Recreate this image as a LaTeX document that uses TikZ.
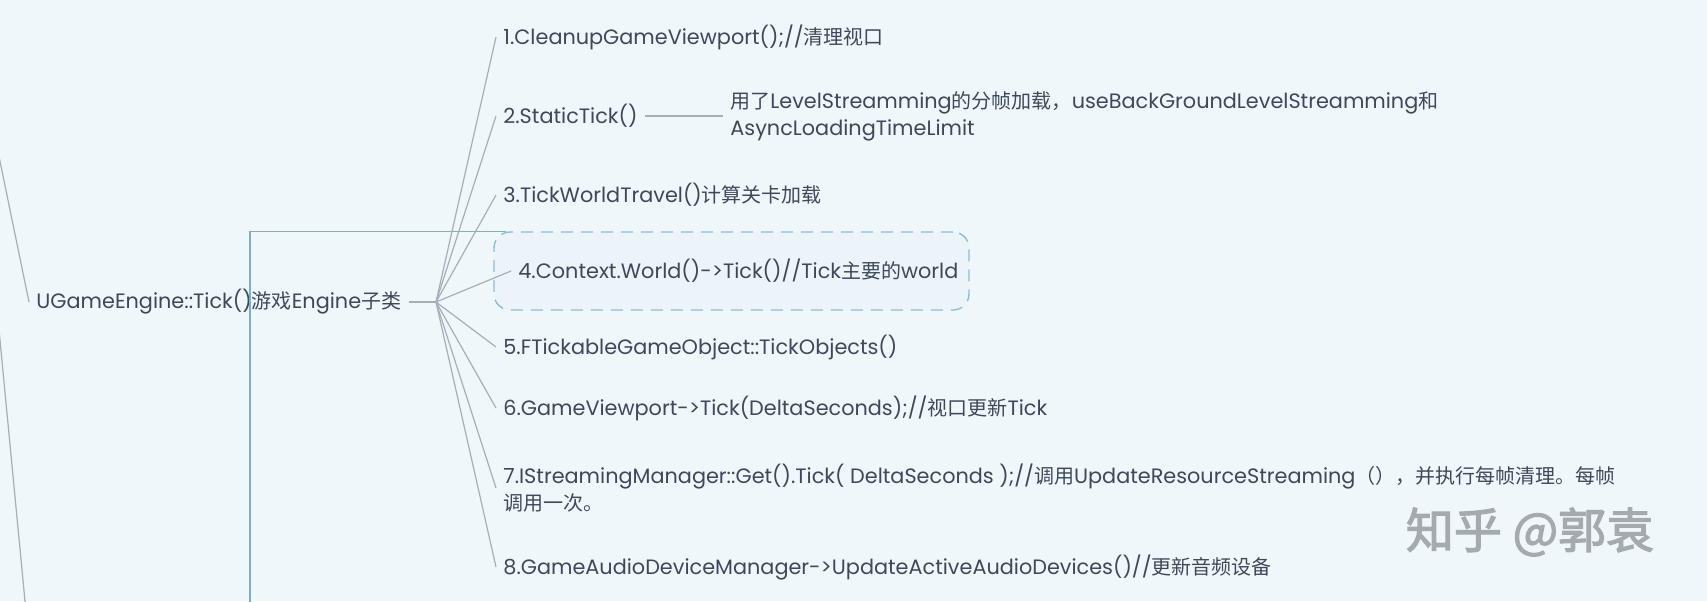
\documentclass[tikz,border=0pt]{standalone}
\usepackage{fontspec}
\setmainfont[Scale = 1.04]{Poppins}
\newfontfamily\cjkfont{Noto Sans CJK SC}
\newfontfamily\markfont[AutoFakeBold = 2.5]{Noto Sans CJK SC}
\usetikzlibrary{positioning, calc}
\newcommand{\zh} [1] {{\cjkfont #1}}
\def \topicsize {\fontsize{10pt}{13.5pt}\selectfont}

\definecolor{paper}{RGB}{240,247,251}
\definecolor{ink}{RGB}{62,72,88}
\definecolor{twig}{RGB}{166,174,183}
\definecolor{relblue}{RGB}{123,176,203}
\definecolor{boxline}{RGB}{138,189,214}
\definecolor{boxfill}{RGB}{236,244,250}
\definecolor{markgrey}{RGB}{165,170,176}

\tikzset{
  topic/.style = {anchor = west, inner sep = 3.5pt, text = ink, font = \topicsize, align = left},
  branch/.style = {draw = twig, line width = 0.6pt},
  relation/.style = {draw = relblue, line width = 0.8pt},
  focusbox/.style = {draw = boxline, fill = boxfill, line width = 0.7pt, dash pattern = on 6pt off 4pt, rounded corners = 8pt}
}

\begin{document}
\begin{tikzpicture}[x = 0.5pt, y = -0.5pt]
\useasboundingbox (0, 0) rectangle (1707, 601);
\fill[paper] (0, 0) rectangle (1707, 601);
\clip (0, 0) rectangle (1707, 601);

% parent branch, outside the picture
\coordinate (enginehub) at (-32, 6);
\coordinate (nextsibling) at (27, 622);

\node (engine) [topic] at (29, 302) {UGameEngine::Tick()\zh{游戏}Engine\zh{子类}};
\coordinate (hub) at (436, 302);
\draw[branch] (enginehub) -- (engine.west);
\draw[branch] (enginehub) -- (nextsibling);
\draw[branch] (engine.east) -- (hub);

% relationship line to the boxed topic
\node (worldbox) [focusbox, minimum width = 237.5pt, minimum height = 39pt] at (731.5, 271) {};
\coordinate (relfoot) at (250, 640);
\draw[relation] (relfoot) |- ([xshift = 6.5pt] worldbox.north west);

\node (cleanup) [topic] at (496, 37) {1.CleanupGameViewport();//\zh{清理视口}};
\node (statictick) [topic] at (496, 116) {2.StaticTick()};
\node (streamnote) [topic] at (723, 116) {\zh{用了}LevelStreamming\zh{的分帧加载，}useBackGroundLevelStreamming\zh{和}\\AsyncLoadingTimeLimit};
\node (travel) [topic] at (496, 195) {3.TickWorldTravel()\zh{计算关卡加载}};
\node (world) [topic] at (511, 271) {4.Context.World()->Tick()//Tick\zh{主要的}world};
\node (tickables) [topic] at (496, 347) {5.FTickableGameObject::TickObjects()};
\node (viewport) [topic] at (496, 408) {6.GameViewport->Tick(DeltaSeconds);//\zh{视口更新}Tick};
\node (streaming) [topic] at (496, 488) {7.IStreamingManager::Get().Tick( DeltaSeconds );//\zh{调用}UpdateResourceStreaming\zh{（），并执行每帧清理。每帧}\\\zh{调用一次。}};
\node (audio) [topic] at (496, 567) {8.GameAudioDeviceManager->UpdateActiveAudioDevices()//\zh{更新音频设备}};

\foreach \child in {cleanup, statictick, travel, world, tickables, viewport, streaming, audio}
  \draw[branch] (hub) -- (\child.west);
\draw[branch] (statictick.east) -- (streamnote.west);

\node (watermark) [text = markgrey, font = \markfont\bfseries\fontsize{24pt}{24pt}\selectfont] at (1530, 532) {知乎 @郭袁};

\end{tikzpicture}
\end{document}
